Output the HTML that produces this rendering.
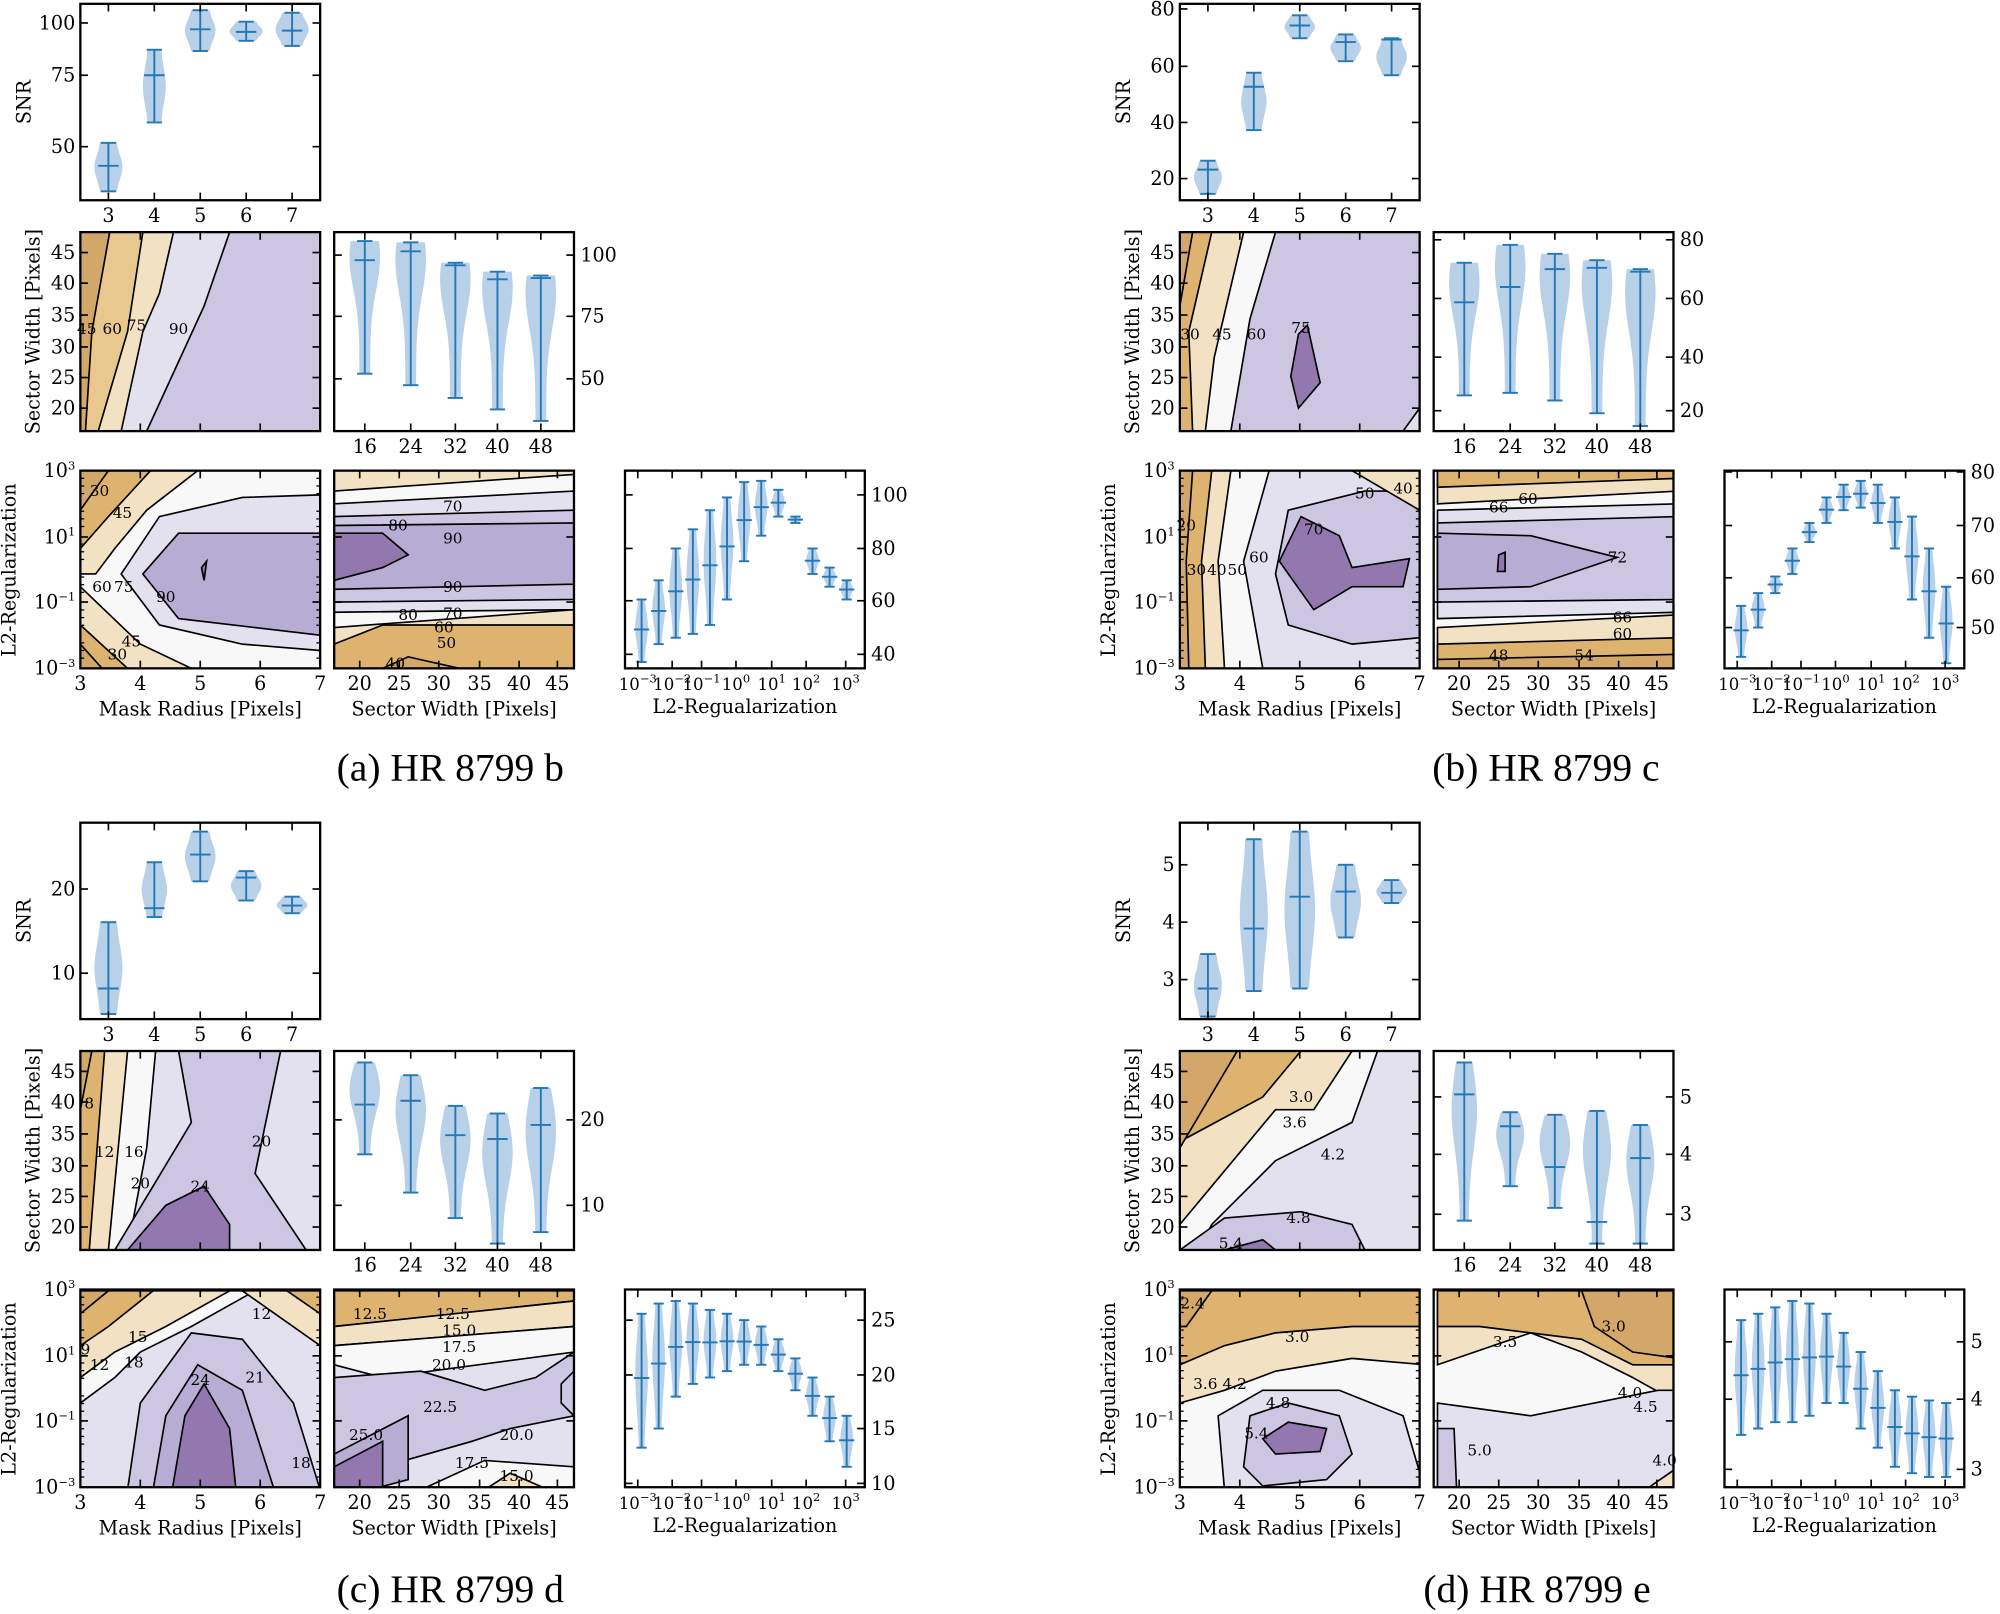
<!DOCTYPE html>
<html><head><meta charset="utf-8"><style>html,body{margin:0;padding:0;background:#fff}svg{display:block}</style></head>
<body>
<svg id="s" xmlns="http://www.w3.org/2000/svg" width="2000" height="1614" viewBox="0 0 1568 1265.4" preserveAspectRatio="none"></svg>
<script>
const S=[];const add=s=>S.push(s);
const P1='#9378b0',P2='#b6acd4',P3='#cdc6e2',P4='#e4e1ef',W='#f8f8f8',O1='#f3e1c3',O2='#e9c88f',O3='#ddb36f',O4='#d2a769';
const F='font-family="DejaVu Serif, Liberation Serif, serif"';
function txt(x,y,s,sz,anchor,rot){add(`<text x="${x}" y="${y}" font-size="${sz||15}" text-anchor="${anchor||'middle'}" ${F} ${rot?`transform="rotate(${rot} ${x} ${y})"`:''}>${s}</text>`)}
function box(x,y,w,h){add(`<rect x="${x}" y="${y}" width="${w}" height="${h}" fill="none" stroke="#000" stroke-width="1.8"/>`)}
function xticks(x,y,w,h,t,lab,sz){t.forEach(([p,l])=>{add(`<line x1="${p}" y1="${y+h}" x2="${p}" y2="${y+h-6}" stroke="#000" stroke-width="1.3"/><line x1="${p}" y1="${y}" x2="${p}" y2="${y+6}" stroke="#000" stroke-width="1.3"/>`);if(lab)txt(p,y+h+17,l,sz||15)})}
function yticks(x,y,w,h,t,side){t.forEach(([p,l])=>{add(`<line x1="${x}" y1="${p}" x2="${x+6}" y2="${p}" stroke="#000" stroke-width="1.3"/><line x1="${x+w}" y1="${p}" x2="${x+w-6}" y2="${p}" stroke="#000" stroke-width="1.3"/>`);if(side==='l')txt(x-4,p+5,l,15,'end');else if(side==='r')txt(x+w+5,p+5,l,15,'start')})}
function sup(e){return `10<tspan dy="-6" font-size="9">${e}</tspan>`}
function violin(cx,top,bot,med,hw,p,cap,mn){mn=mn==null?0.25:mn;let L=[],R=[];for(let i=0;i<=20;i++){const t=i/20,y=top+(bot-top)*t,w=hw*(mn+(1-mn)*Math.exp(-(((t-p)/0.35)**2)));L.push(`${(cx-w).toFixed(1)},${y.toFixed(1)}`);R.unshift(`${(cx+w).toFixed(1)},${y.toFixed(1)}`)}
add(`<polygon points="${L.concat(R).join(' ')}" fill="#b9d0e9"/>`);cap=cap||6;
add(`<g stroke="#2378b5" stroke-width="1.5"><line x1="${cx}" y1="${top}" x2="${cx}" y2="${bot}"/><line x1="${cx-cap}" y1="${top}" x2="${cx+cap}" y2="${top}"/><line x1="${cx-cap}" y1="${bot}" x2="${cx+cap}" y2="${bot}"/><line x1="${cx-cap-2}" y1="${med}" x2="${cx+cap+2}" y2="${med}"/></g>`)}
let cid=0;
function contour(x,y,w,h,bg,polys,labels){cid++;add(`<clipPath id="c${cid}"><rect x="${x}" y="${y}" width="${w}" height="${h}"/></clipPath><g clip-path="url(#c${cid})"><rect x="${x}" y="${y}" width="${w}" height="${h}" fill="${bg}"/>`);
polys.forEach(([c,pts])=>add(`<polygon points="${pts}" fill="${c}" stroke="#000" stroke-width="1.3"/>`));add('</g>');
(labels||[]).forEach(([s,lx,ly])=>txt(lx,ly+4,s,12))}
function panel(dx,dy,d){
 const X=v=>v+dx;
 let x=63+dx,y=3+dy,w=188,h=154;
 d.topV.forEach((v,i)=>violin(X(85+36*i),v[0],v[1],v[2],v[3],0.5,6,0.55));
 box(x,y,w,h);xticks(x,y,w,h,[[85,'3'],[121,'4'],[157,'5'],[193,'6'],[229,'7']].map(a=>[X(a[0]),a[1]]),1);yticks(x,y,w,h,d.topY,'l');
 txt(X(24),80+dy,'SNR',15,'middle',-90);
 x=63+dx;y=182+dy;h=156;
 contour(x,y,w,h,d.ml[0],d.ml[1],d.ml[2]);box(x,y,w,h);
 xticks(x,y,w,h,[63,110,157,204,251].map(a=>[X(a),'']),0);
 yticks(x,y,w,h,[[320,'20'],[296,'25'],[272,'30'],[247,'35'],[222,'40'],[198,'45']].map(a=>[a[0]+dy,a[1]]),'l');
 txt(X(31),260+dy,'Sector Width [Pixels]',15,'middle',-90);
 x=262+dx;
 d.midV.forEach((v,i)=>violin(X([286,322,357,390,424][i]),v[0],v[1],v[2],v[3],d.mp,6,0.35));
 box(x,y,w,h);xticks(x,y,w,h,[[286,'16'],[322,'24'],[357,'32'],[390,'40'],[424,'48']].map(a=>[X(a[0]),a[1]]),1);yticks(x,y,w,h,d.midY,'r');
 x=63+dx;y=369+dy;h=155;
 contour(x,y,w,h,d.bl[0],d.bl[1],d.bl[2]);box(x,y,w,h);
 xticks(x,y,w,h,[[63,'3'],[110,'4'],[157,'5'],[204,'6'],[251,'7']].map(a=>[X(a[0]),a[1]]),1);
 yticks(x,y,w,h,[[369,sup(3)],[421,sup(1)],[472,sup('−1')],[524,sup('−3')]].map(a=>[a[0]+dy,a[1]]),'l');
 for(let k=0;k<6;k++){for(let m=1;m<=3;m++){const yy=369+dy+k*25.8+m*6;add(`<line x1="${x}" y1="${yy}" x2="${x+3}" y2="${yy}" stroke="#000"/><line x1="${x+w}" y1="${yy}" x2="${x+w-3}" y2="${yy}" stroke="#000"/>`)}}
 txt(X(12),447+dy,'L2-Regularization',15,'middle',-90);
 txt(X(157),561+dy,'Mask Radius [Pixels]',15);
 x=262+dx;
 contour(x,y,w,h,d.bm[0],d.bm[1],d.bm[2]);box(x,y,w,h);
 xticks(x,y,w,h,[[282,'20'],[313,'25'],[344,'30'],[376,'35'],[407,'40'],[437,'45']].map(a=>[X(a[0]),a[1]]),1);
 yticks(x,y,w,h,[369,421,472,524].map(a=>[a+dy,'']),'');
 txt(X(356),561+dy,'Sector Width [Pixels]',15);
 x=490+dx;
 d.brT.forEach((t,i)=>{const b=d.brB[i];violin(X(503+13.4*i),t,b,t+0.48*(b-t),5,0.45,4,0.4)});
 box(x,y,w,h);
 xticks(x,y,w,h,[[500,sup('−3')],[527,sup('−2')],[550,sup('−1')],[577,sup(0)],[605,sup(1)],[632,sup(2)],[663,sup(3)]].map(a=>[X(a[0]),a[1]]),1,13);
 yticks(x,y,w,h,d.brY,'r');
 txt(X(584),559+dy,'L2-Regualarization',15);
 add(`<text x="${d.cap[0]}" y="${d.cap[1]}" font-size="31" text-anchor="middle" font-family="Liberation Serif, serif">${d.cap[2]}</text>`);
}
panel(0,0,{topV:[[112,150,130,11],[39,96,59,9],[8,40,23,12],[17,32,25,13],[10,36,24,13]],topY:[[115,'50'],[59,'75'],[18,'100']],
 ml:[P3,[[P4,'63,182 180,182 160,240 115,338 63,338'],[O1,'63,182 136,182 125,230 112,260 95,338 63,338'],[O2,'63,182 112,182 100,260 77,338 63,338'],[O4,'63,182 86,182 72,260 67,338 63,338']],[['45',68,258],['60',88,258],['75',107,255],['90',140,258]]],
 midV:[[189,293,204,12],[190,302,197,12],[206,312,208,12],[213,321,219,12],[216,330,218,12]],mp:0.12,midY:[[200,'100'],[248,'75'],[297,'50']],
 bl:[W,[[O1,'63,369 155,369 115,400 90,430 75,450 63,450'],[O3,'63,369 118,369 85,405 63,430'],[O4,'63,369 85,369 70,390 63,400'],[O1,'63,524 63,460 110,505 150,524'],[O3,'63,524 63,490 100,524'],[O4,'63,524 63,505 80,524'],[P4,'95,450 125,405 190,390 251,388 251,510 190,505 125,490'],[P2,'112,450 140,418 251,418 251,498 140,485'],[P1,'158,445 162,440 160,455']],[['30',78,385],['45',96,402],['60',80,460],['75',97,460],['90',130,468],['45',103,503],['30',92,513]]],
 bm:[W,[[O1,'262,369 450,369 450,372 262,385'],[P4,'262,395 450,385 450,478 262,480'],[P3,'262,405 450,400 450,470 262,472'],[P2,'262,412 450,410 450,458 262,462'],[P1,'262,418 300,418 320,435 300,445 262,455'],[O1,'262,492 450,478 450,524 262,524'],[O3,'262,505 300,490 450,490 450,524 262,524'],[O4,'300,524 320,515 360,524']],[['70',355,397],['80',312,412],['90',355,422],['90',355,460],['80',320,482],['70',355,481],['60',348,492],['50',350,504],['40',310,520]]],
 brT:[470,455,430,415,400,390,378,377,384,405,430,445,455],brB:[519,505,500,497,490,470,440,420,405,410,450,460,470],brY:[[388,'100'],[430,'80'],[471,'60'],[513,'40']],cap:[353,612,'(a) HR 8799 b']});
panel(862,0,{topV:[[126,152,133,11],[57,102,68,10],[12,30,20,12],[27,48,33,12],[30,59,31,12]],topY:[[7,'80'],[52,'60'],[96,'40'],[140,'20']],
 ml:[P3,[[W,'925,182 1000,182 980,250 965,338 925,338'],[O1,'925,182 975,182 952,280 945,338 925,338'],[O3,'925,182 950,182 932,260 935,338 925,338'],[O4,'925,182 935,182 925,240'],[P4,'1100,338 1113,320 1113,338'],[P1,'1018,262 1025,255 1035,300 1018,320 1012,295']],[['30',933,262],['45',958,262],['60',985,262],['75',1020,257]]],
 midV:[[206,310,237,12],[192,308,225,12],[199,314,211,12],[204,324,210,12],[211,334,213,12]],mp:0.15,midY:[[188,'80'],[234,'60'],[280,'40'],[322,'20']],
 bl:[P4,[[W,'925,369 995,369 975,440 990,524 925,524'],[O1,'925,369 965,369 955,440 960,524 925,524'],[O3,'925,369 950,369 942,440 945,524 925,524'],[O4,'925,369 935,369 930,440 932,524 925,524'],[P3,'1000,450 1010,400 1070,385 1113,385 1113,500 1060,505 1010,490'],[P1,'1003,440 1020,405 1050,420 1060,445 1105,438 1100,460 1060,460 1030,478'],[O1,'1060,369 1113,369 1113,400']],[['20',930,412],['30',938,447],['40',954,447],['50',970,447],['60',987,437],['70',1030,415],['50',1070,387],['40',1100,383]]],
 bm:[W,[[O1,'1127,369 1316,369 1316,385 1127,395'],[O3,'1127,369 1316,369 1316,375 1127,382'],[P4,'1127,400 1316,395 1316,480 1127,485'],[P3,'1127,410 1316,405 1316,470 1127,472'],[P2,'1127,418 1200,420 1268,437 1200,460 1127,462'],[P1,'1175,435 1180,433 1180,448 1174,448'],[O1,'1127,492 1316,482 1316,524 1127,524'],[O3,'1127,505 1316,500 1316,524 1127,524'],[O4,'1127,517 1316,513 1316,524 1127,524']],[['66',1175,398],['60',1198,391],['72',1268,437],['66',1272,484],['60',1272,497],['48',1175,514],['54',1242,514]]],
 brT:[475,465,452,430,410,390,380,377,380,390,405,430,460],brB:[515,492,465,450,425,410,400,398,410,430,470,500,520],brY:[[370,'80'],[412,'70'],[453,'60'],[492,'50']],cap:[1212,612,'(b) HR 8799 c']});
panel(0,642,{topV:[[723,795,775,11],[676,719,712,10],[652,691,670,12],[683,706,688,12],[703,716,710,12]],topY:[[697,'20'],[763,'10']],
 ml:[P4,[[W,'63,824 122,824 115,900 100,980 63,980'],[O1,'63,824 100,824 85,980 63,980'],[O3,'63,824 82,824 70,980 63,980'],[O4,'63,824 72,824 63,870'],[P3,'140,824 220,824 200,920 240,980 90,980 120,930 150,880'],[P1,'100,980 130,945 160,930 180,960 180,980']],[['8',70,865],['12',82,903],['16',105,903],['20',110,928],['24',157,930],['20',205,895]]],
 midV:[[833,905,866,12],[843,935,863,12],[867,955,890,12],[873,975,893,12],[853,966,882,12]],mp:0.3,midY:[[878,'20'],[945,'10']],
 bl:[P4,[[W,'63,1012 200,1012 150,1040 110,1060 90,1080 63,1100'],[O1,'63,1012 180,1012 130,1040 90,1060 63,1080'],[O3,'63,1012 120,1012 85,1040 63,1055'],[O4,'63,1012 85,1012 63,1030'],[O1,'190,1012 251,1012 251,1055'],[O3,'225,1012 251,1012 251,1030'],[P3,'100,1168 110,1100 150,1045 190,1050 230,1100 251,1168'],[P2,'120,1168 130,1110 155,1070 190,1090 215,1168'],[P1,'135,1168 145,1110 160,1085 180,1120 185,1168']],[['9',67,1058],['12',78,1070],['15',108,1048],['18',105,1068],['24',157,1082],['21',200,1080],['18',236,1147],['12',205,1030]]],
 bm:[P4,[[O3,'262,1012 450,1012 450,1020 262,1040'],[O1,'262,1040 450,1020 450,1040 262,1055'],[W,'262,1055 450,1040 450,1060 300,1080 262,1070'],[P3,'262,1080 330,1075 380,1090 420,1080 450,1060 450,1110 400,1120 370,1130 300,1150 262,1168'],[P2,'262,1140 320,1110 320,1160 290,1168 262,1168'],[P1,'262,1150 300,1130 300,1168 262,1168'],[P3,'440,1085 450,1075 450,1110 440,1100'],[W,'330,1168 380,1145 450,1150 450,1168'],[O1,'380,1168 400,1155 430,1168']],[['12.5',290,1030],['12.5',355,1030],['15.0',360,1043],['17.5',360,1056],['20.0',352,1070],['22.5',345,1103],['25.0',287,1125],['20.0',405,1125],['17.5',370,1147],['15.0',405,1157]]],
 brT:[1030,1022,1020,1022,1027,1030,1035,1040,1050,1065,1080,1095,1110],brB:[1135,1120,1095,1085,1080,1075,1070,1070,1075,1090,1110,1130,1150],brY:[[1035,'25'],[1078,'20'],[1120,'15'],[1163,'10']],cap:[353,1256,'(c) HR 8799 d']});
panel(862,642,{topV:[[748,797,775,11],[658,777,728,11],[652,775,703,12],[678,735,699,12],[690,708,700,12]],topY:[[678,'5'],[723,'4'],[768,'3']],
 ml:[P4,[[W,'925,824 1080,824 1060,880 1000,910 950,960 940,980 925,980'],[O1,'925,824 1060,824 1030,870 1000,870 950,930 925,960'],[O3,'925,824 1020,824 990,860 925,895'],[O4,'925,824 970,824 925,900'],[P3,'925,980 960,955 1020,950 1060,960 1070,980'],[P1,'960,980 990,972 1000,980']],[['3.0',1020,860],['3.6',1015,880],['4.2',1045,905],['4.8',1018,955],['5.4',965,975]]],
 midV:[[833,957,858,10],[872,930,883,11],[874,947,915,12],[871,975,958,11],[882,975,908,11]],mp:0.3,midY:[[860,'5'],[905,'4'],[952,'3']],
 bl:[W,[[O1,'925,1012 1117,1012 1117,1070 1060,1065 1000,1075 960,1090 925,1100'],[O3,'925,1012 1117,1012 1117,1040 1060,1040 1000,1045 960,1055 925,1070'],[O4,'925,1012 950,1012 930,1040 925,1040'],[P4,'960,1168 955,1110 990,1090 1050,1090 1100,1110 1117,1168'],[P3,'975,1150 980,1110 1010,1100 1050,1110 1060,1140 1040,1160 990,1165'],[P1,'990,1128 1010,1115 1040,1120 1035,1138 1000,1140']],[['2.4',935,1022],['3.0',1017,1048],['3.6',945,1085],['4.2',968,1085],['4.8',1002,1100],['5.4',985,1124]]],
 bm:[W,[[O1,'1127,1012 1316,1012 1316,1100 1280,1080 1240,1060 1200,1045 1127,1070'],[O3,'1127,1012 1316,1012 1316,1070 1280,1070 1240,1050 1200,1045 1160,1040 1127,1040'],[O4,'1240,1012 1316,1012 1316,1065 1280,1060 1250,1040'],[P4,'1127,1100 1200,1110 1300,1090 1316,1090 1316,1168 1127,1168'],[P3,'1127,1120 1140,1120 1142,1168 1127,1168'],[O1,'1290,1168 1316,1150 1316,1168']],[['3.5',1180,1052],['3.0',1265,1040],['4.0',1278,1092],['4.5',1290,1103],['5.0',1160,1137],['4.0',1305,1145]]],
 brT:[1035,1030,1025,1020,1022,1030,1045,1060,1075,1090,1095,1098,1100],brB:[1125,1120,1115,1115,1110,1100,1100,1120,1135,1150,1155,1158,1158],brY:[[1052,'5'],[1097,'4'],[1152,'3']],cap:[1205,1256,'(d) HR 8799 e']});
document.getElementById('s').innerHTML=S.join('');
</script>
</body></html>
